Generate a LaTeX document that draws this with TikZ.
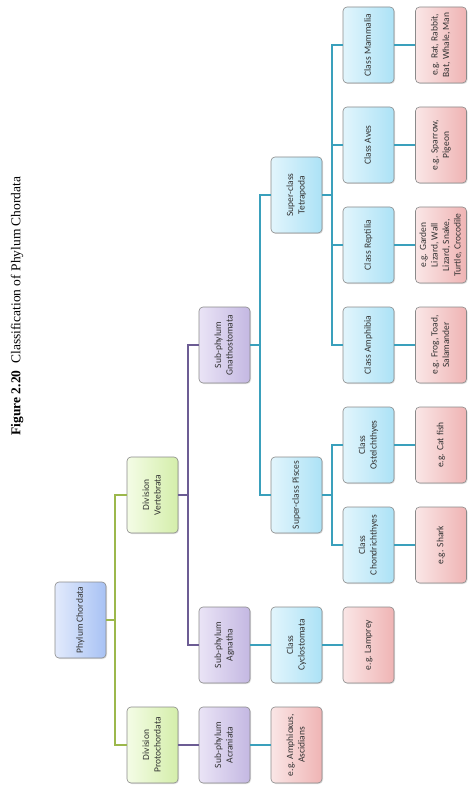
\documentclass[tikz,border=0pt]{standalone}
\usepackage{fontspec}
\usepackage{graphicx}
\setmainfont{Carlito}
\newfontfamily\capfont{Liberation Serif}
\usetikzlibrary{shadows}
\definecolor{lgreen}{HTML}{9CB84C}
\definecolor{lpurple}{HTML}{6C5C94}
\definecolor{lteal}{HTML}{3AA0BC}
\definecolor{bordc}{HTML}{8A8A8A}
\definecolor{phyA}{HTML}{E2EAFC}\definecolor{phyB}{HTML}{A8C2F4}
\definecolor{divA}{HTML}{F4FCE6}\definecolor{divB}{HTML}{D4EEAA}
\definecolor{subA}{HTML}{EAE4F6}\definecolor{subB}{HTML}{C4B8E2}
\definecolor{clsA}{HTML}{E2F5FC}\definecolor{clsB}{HTML}{ACE2F6}
\definecolor{exA}{HTML}{FAE6E6}\definecolor{exB}{HTML}{EFB4B4}
\newcommand{\rtxt}[1]{\rotatebox{90}{\begin{tabular}{@{}c@{}}#1\end{tabular}}}
\tikzset{
  bx/.style={draw=bordc, line width=0.6pt, rounded corners=4pt,
    minimum width=51pt, minimum height=76pt, inner sep=0pt,
    font=\fontsize{9.5}{11.5}\selectfont, text=black!80,
    drop shadow={shadow xshift=1pt, shadow yshift=-1pt, opacity=0.25}},
  phy/.style={bx, left color=phyA, right color=phyB},
  div/.style={bx, left color=divA, right color=divB},
  sub/.style={bx, left color=subA, right color=subB},
  cls/.style={bx, left color=clsA, right color=clsB},
  ex/.style={bx, left color=exA, right color=exB},
  gl/.style={draw=lgreen, line width=1.8pt},
  pl/.style={draw=lpurple, line width=1.8pt},
  tl/.style={draw=lteal, line width=1.8pt}
}
\begin{document}
\begin{tikzpicture}[x=1pt,y=-1pt]
\useasboundingbox (0,0) rectangle (474,791);
% caption
\node[rotate=90, font=\capfont\fontsize{13.5}{15}\selectfont] (cap) at (17,306)
  {\textbf{Figure 2.20}\enspace Classification of Phylum Chordata};
% column 0
\node[phy] (phylum) at (80.5,620) {\rtxt{Phylum Chordata}};
% column 1
\node[div] (vert) at (152.5,495) {\rtxt{Division\\Vertebrata}};
\node[div] (proto) at (152.5,745) {\rtxt{Division\\Protochordata}};
% column 2
\node[sub] (gnath) at (224.5,345) {\rtxt{Sub-phylum\\Gnathostomata}};
\node[sub] (agn) at (224.5,645) {\rtxt{Sub-phylum\\Agnatha}};
\node[sub] (acr) at (224.5,745) {\rtxt{Sub-phylum\\Acraniata}};
% column 3
\node[cls] (tetra) at (296.5,195) {\rtxt{Super-class\\Tetrapoda}};
\node[cls] (pisces) at (296.5,495) {\rtxt{Super-class Pisces}};
\node[cls] (cyclo) at (296.5,645) {\rtxt{Class\\Cyclostomata}};
\node[ex] (amphx) at (296.5,745) {\rtxt{e.g. Amphioxus,\\Ascidians}};
% column 4
\node[cls] (mamm) at (368.5,45) {\rtxt{Class Mammalia}};
\node[cls] (aves) at (368.5,145) {\rtxt{Class Aves}};
\node[cls] (rept) at (368.5,245) {\rtxt{Class Reptilia}};
\node[cls] (amph) at (368.5,345) {\rtxt{Class Amphibia}};
\node[cls] (oste) at (368.5,445) {\rtxt{Class\\Ostelchthyes}};
\node[cls] (chon) at (368.5,545) {\rtxt{Class\\Chondrichthyes}};
\node[ex] (lamp) at (368.5,645) {\rtxt{e.g. Lamprey}};
% column 5
\node[ex] (exm) at (441,45) {\rtxt{e.g. Rat, Rabbit,\\Bat, Whale, Man}};
\node[ex] (exa) at (441,145) {\rtxt{e.g. Sparrow,\\Pigeon}};
\node[ex] (exr) at (441,245) {\rtxt{e.g. Garden\\Lizard, Wall\\Lizard, Snake,\\Turtle, Crocodile}};
\node[ex] (exam) at (441,345) {\rtxt{e.g. Frog, Toad,\\Salamander}};
\node[ex] (exo) at (441,445) {\rtxt{e.g. Cat fish}};
\node[ex] (exc) at (441,545) {\rtxt{e.g. Shark}};
% connectors: green
\draw[gl] (phylum.east) -- ++(9,0) coordinate (g0);
\draw[gl] (vert.west) -| (g0) |- (proto.west);
% purple
\draw[pl] (proto.east) -- (acr.west);
\draw[pl] (vert.east) -- ++(10,0) coordinate (p0);
\draw[pl] (gnath.west) -| (p0) |- (agn.west);
% teal
\draw[tl] (agn.east) -- (cyclo.west);
\draw[tl] (cyclo.east) -- (lamp.west);
\draw[tl] (acr.east) -- (amphx.west);
\draw[tl] (gnath.east) -- ++(10,0) coordinate (t0);
\draw[tl] (tetra.west) -| (t0) |- (pisces.west);
\draw[tl] (tetra.east) -- ++(10,0) coordinate (t1);
\draw[tl] (mamm.west) -| (t1) |- (amph.west);
\draw[tl] (aves.west) -| (t1);
\draw[tl] (rept.west) -| (t1);
\draw[tl] (pisces.east) -- ++(10,0) coordinate (t2);
\draw[tl] (oste.west) -| (t2) |- (chon.west);
\draw[tl] (mamm.east) -- (exm.west);
\draw[tl] (aves.east) -- (exa.west);
\draw[tl] (rept.east) -- (exr.west);
\draw[tl] (amph.east) -- (exam.west);
\draw[tl] (oste.east) -- (exo.west);
\draw[tl] (chon.east) -- (exc.west);
\end{tikzpicture}
\end{document}
